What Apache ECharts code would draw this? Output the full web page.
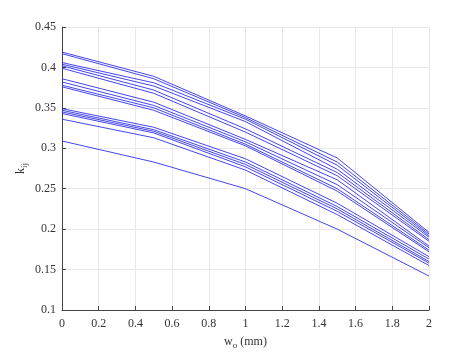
<!DOCTYPE html>
<html>
<head>
<meta charset="utf-8">
<script src="https://cdn.jsdelivr.net/npm/echarts@6/dist/echarts.min.js"></script>
<style>html,body{margin:0;padding:0;background:#fff}#c{width:474px;height:355px}</style>
</head>
<body>
<div id="c"></div>
<script>
// x positions (w_o, mm)
const wo = [0, 0.5, 1, 1.5, 2];
// k_ij curves
const line01 = [0.419, 0.389, 0.340, 0.288, 0.196];
const line02 = [0.417, 0.386, 0.338, 0.283, 0.194];
const line03 = [0.406, 0.381, 0.336, 0.279, 0.192];
const line04 = [0.404, 0.377, 0.333, 0.274, 0.190];
const line05 = [0.402, 0.372, 0.324, 0.270, 0.187];
const line06 = [0.399, 0.368, 0.320, 0.266, 0.185];
const line07 = [0.386, 0.357, 0.311, 0.261, 0.179];
const line08 = [0.382, 0.353, 0.308, 0.255, 0.177];
const line09 = [0.378, 0.350, 0.305, 0.250, 0.174];
const line10 = [0.376, 0.347, 0.303, 0.247, 0.172];
const line11 = [0.349, 0.326, 0.287, 0.232, 0.166];
const line12 = [0.347, 0.323, 0.283, 0.228, 0.163];
const line13 = [0.345, 0.321, 0.280, 0.225, 0.160];
const line14 = [0.343, 0.319, 0.277, 0.222, 0.158];
const line15 = [0.336, 0.313, 0.273, 0.218, 0.155];
const line16 = [0.309, 0.283, 0.250, 0.200, 0.142];
const allLines = [line01,line02,line03,line04,line05,line06,line07,line08,line09,line10,line11,line12,line13,line14,line15,line16];
// tick labels
const xTicks = ['0','0.2','0.4','0.6','0.8','1','1.2','1.4','1.6','1.8','2'];
const yTicks = ['0.1','0.15','0.2','0.25','0.3','0.35','0.4','0.45'];

const font = 'Liberation Serif';
const series = allLines.map(vals => ({
  type: 'line',
  data: wo.map((x, i) => [x, vals[i]]),
  symbol: 'none',
  lineStyle: { color: '#3030e8', width: 0.9 },
  emphasis: { disabled: true },
  animation: false
}));

const chart = echarts.init(document.getElementById('c'), null, { renderer: 'canvas' });
chart.setOption({
  animation: false,
  backgroundColor: '#fff',
  grid: { left: 62, top: 27, right: 45, bottom: 39, containLabel: false },
  xAxis: {
    type: 'value', min: 0, max: 2, interval: 0.2,
    name: '{a|w}{b|o}{a| (mm)}', nameLocation: 'middle', nameGap: 23,
    nameTextStyle: { rich: {
      a: { fontFamily: font, fontSize: 12, color: '#333333' },
      b: { fontFamily: font, fontSize: 9, color: '#333333', verticalAlign: 'bottom', padding: [8,0,0,0] }
    } },
    axisLine: { show: true, lineStyle: { color: '#444444', width: 1 } },
    axisTick: { show: true, inside: true, length: 4, lineStyle: { color: '#444444' } },
    axisLabel: { fontFamily: font, fontSize: 12, color: '#333333', margin: 8,
      formatter: (v) => xTicks[Math.round(v / 0.2)] },
    splitLine: { show: true, lineStyle: { color: '#e8e8e8', width: 1 } }
  },
  yAxis: {
    type: 'value', min: 0.1, max: 0.45, interval: 0.05,
    name: '{a|k}{b|ij}', nameLocation: 'middle', nameGap: 33, nameRotate: 90,
    nameMoveOverlap: false,
    nameTextStyle: { rich: {
      a: { fontFamily: font, fontSize: 12, color: '#333333' },
      b: { fontFamily: font, fontSize: 9, color: '#333333', verticalAlign: 'bottom', padding: [8,0,0,0] }
    } },
    axisLine: { show: true, lineStyle: { color: '#444444', width: 1 } },
    axisTick: { show: true, inside: true, length: 4, lineStyle: { color: '#444444' } },
    axisLabel: { fontFamily: font, fontSize: 12, color: '#333333', margin: 6,
      formatter: (v) => yTicks[Math.round((v - 0.1) / 0.05)] },
    splitLine: { show: true, lineStyle: { color: '#e8e8e8', width: 1 } }
  },
  series: series
});
</script>
</body>
</html>
